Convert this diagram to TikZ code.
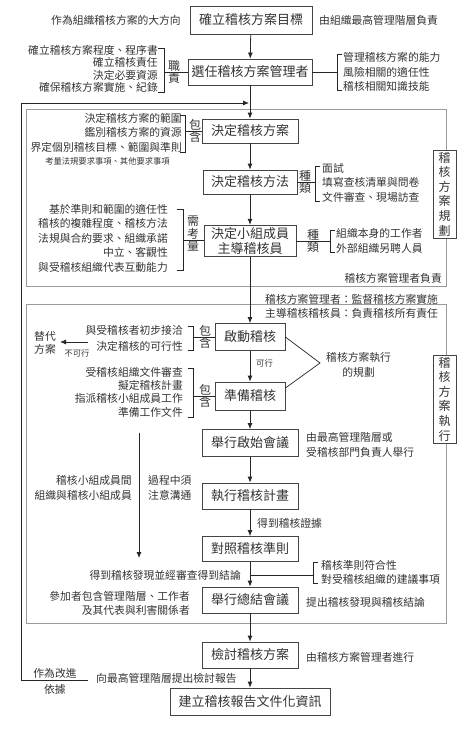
\documentclass[tikz,border=0pt]{standalone}
\usepackage{fontspec}
\setmainfont{Noto Sans CJK TC}
\usetikzlibrary{arrows.meta,calc}

\definecolor{txt}{HTML}{333333}
\definecolor{edge}{HTML}{444444}
\definecolor{frm}{HTML}{9A9A9A}

\tikzset{
    stage/.style={draw=edge, line width=0.8pt, fill=white, text=txt, font=\fontsize{13}{15.5}\selectfont,
        minimum height=26pt, inner xsep=3pt, inner ysep=2pt, align=center},
    aside/.style={font=\fontsize{10.8}{#1}\selectfont, text=txt, inner sep=0pt},
    aside/.default=14.5,
    mini/.style={font=\fontsize{8.3}{10}\selectfont, text=txt, inner sep=0pt},
    vlab/.style={font=\fontsize{12}{12.5}\selectfont, text=txt, inner sep=0pt, align=center},
    tag/.style={draw=edge, line width=0.7pt, fill=white, text=txt, font=\fontsize{12}{14.6}\selectfont,
        minimum width=23pt, minimum height=88pt, inner sep=0pt, align=center},
    zone/.style={draw=frm, line width=0.7pt},
    flow/.style={draw=black!85, line width=0.8pt, -{Latex[length=6pt,width=5pt]}},
    link/.style={draw=black!85, line width=0.7pt},
}

\begin{document}
\begin{tikzpicture}[x=1pt, y=-1pt]
    \useasboundingbox (0,0) rectangle (474,729);

    \draw[zone] (26,109) rectangle (446,286);
    \draw[zone] (26,304) rectangle (446,623);
    \node[tag] (plan) at (444.5,194) {稽\\核\\方\\案\\規\\劃};
    \node[tag] (run) at (444.5,399) {稽\\核\\方\\案\\執\\行};

    \node[stage, minimum width=122pt, minimum height=28pt] (goal) at (251,20) {確立稽核方案目標};
    \node[stage, minimum width=124pt] (mgr) at (250,72) {選任稽核方案管理者};
    \node[stage, minimum width=96pt, minimum height=24pt] (prog) at (250,131) {決定稽核方案};
    \node[stage, minimum width=94pt, minimum height=24pt] (meth) at (250,182) {決定稽核方法};
    \node[stage, minimum width=92pt, minimum height=31pt] (team) at (250,241) {決定小組成員\\主導稽核員};
    \node[stage, minimum width=70pt, minimum height=27pt] (init) at (250,337) {啟動稽核};
    \node[stage, minimum width=70pt, minimum height=28pt] (prep) at (250,396) {準備稽核};
    \node[stage, minimum width=96pt, minimum height=27pt] (kick) at (250,443) {舉行啟始會議};
    \node[stage, minimum width=96pt] (exec) at (250,496) {執行稽核計畫};
    \node[stage, minimum width=96pt, minimum height=25pt] (comp) at (250,549) {對照稽核準則};
    \node[stage, minimum width=96pt] (close) at (250,600) {舉行總結會議};
    \node[stage, minimum width=96pt] (rev) at (250,655) {檢討稽核方案};
    \node[stage, minimum width=160pt, minimum height=27pt] (rep) at (250,701.5) {建立稽核報告文件化資訊};

    \coordinate (merge) at (250,103);
    \foreach \a/\b in {goal/mgr,mgr/prog,prog/meth,meth/team,team/init,init/prep,prep/kick,
        kick/exec,exec/comp,comp/close,close/rev,rev/rep}
        \draw[flow] (\a) -- (\b);

    \node[aside, anchor=east] (goalL) at (181,20) {作為組織稽核方案的大方向};
    \node[aside, anchor=west] (goalR) at (319,20) {由組織最高管理階層負責};

    \node[aside=12.4, anchor=east, align=right] (duty) at (158,69) {確立稽核方案程度、程序書\\確立稽核責任\\決定必要資源\\確保稽核方案實施、紀錄};
    \draw[link] (158,48) -- (164,48) -- (164,92) -- (158,92);
    \coordinate (dutyB) at (164,72);
    \draw[link] (dutyB) -- (mgr.west);
    \node[vlab] (dutyV) at (174,72) {職\\責};
    \coordinate (skillB) at (337,72);
    \draw[link] (mgr.east) -- (skillB);
    \draw[link] (342,54) -- (337,54) -- (337,90) -- (342,90);
    \node[aside=14.7, anchor=west, align=left] (skill) at (343,72) {管理稽核方案的能力\\風險相關的適任性\\稽核相關知識技能};

    \coordinate (fb) at (88,680);
    \draw[flow, shorten >=1pt] (fb) -- (21,680) |- (merge);
    \node[aside] (improveA) at (55,673.5) {作為改進};
    \node[aside] (improveB) at (55,689) {依據};

    \node[aside, anchor=east, align=right] (scope) at (182,132.5) {決定稽核方案的範圍\\鑑別稽核方案的資源\\界定個別稽核目標、範圍與準則};
    \draw[link] (180,115) -- (185,115) -- (185,152) -- (180,152);
    \coordinate (scopeB) at (185,131);
    \draw[link] (scopeB) -- (prog.west);
    \node[vlab] (scopeV) at (195,131) {包\\含};
    \node[mini, anchor=east] (law) at (170,161) {考量法規要求事項、其他要求事項};

    \node[vlab] (wayV) at (305,182) {種\\類};
    \coordinate (wayB) at (315,182);
    \draw[link] (meth.east) -- (wayB);
    \draw[link] (320,166) -- (315,166) -- (315,201) -- (320,201);
    \node[aside, anchor=west, align=left] (way) at (322,182.5) {面試\\填寫查核清單與問卷\\文件審查、現場訪查};

    \node[aside, anchor=east, align=right] (need) at (168,238) {基於準則和範圍的適任性\\稽核的複雜程度、稽核方法\\法規與合約要求、組織承諾\\中立、客觀性\\與受稽核組織代表互動能力};
    \draw[link] (177,209) -- (183,209) -- (183,270) -- (177,270);
    \coordinate (needB) at (183,240);
    \draw[link] (needB) -- (needB -| team.west);
    \node[vlab] (needV) at (193,234) {需\\考\\量};
    \node[vlab] (staffV) at (313,241) {種\\類};
    \coordinate (staffB) at (330,241);
    \draw[link] (team.east) -- (staffB);
    \draw[link] (335,230) -- (330,230) -- (330,252) -- (335,252);
    \node[aside=15, anchor=west, align=left] (staff) at (336,241) {組織本身的工作者\\外部組織另聘人員};
    \node[aside, anchor=east] (owner) at (442,278) {稽核方案管理者負責};

    \node[aside, anchor=west] (over) at (265,299) {稽核方案管理者：監督稽核方案實施};
    \node[aside, anchor=west] (lead) at (265,313) {主導稽核稽核員：負責稽核所有責任};

    \node[aside=16, anchor=east, align=right] (contact) at (183,338) {與受稽核者初步接洽\\決定稽核的可行性};
    \draw[link] (188,326) -- (193,326) -- (193,350) -- (188,350);
    \coordinate (contactB) at (193,337);
    \draw[link] (contactB) -- (init.west);
    \node[vlab] (contactV) at (205,337) {包\\含};
    \node[aside=13, align=center, inner sep=4pt] (alt) at (45,343) {替代\\方案};
    \coordinate (nogo) at (88,342);
    \draw[flow] (nogo) -- (nogo -| alt.east);
    \node[mini] (nogoL) at (77,353) {不可行};
    \node[mini, anchor=west] (ok) at (256,363) {可行};

    \node[aside=13.3, anchor=east, align=right] (task) at (183,392) {受稽核組織文件審查\\擬定稽核計畫\\指派稽核小組成員工作\\準備工作文件};
    \draw[link] (188,368) -- (193,368) -- (193,417) -- (188,417);
    \coordinate (taskB) at (193,396);
    \draw[link] (taskB) -- (prep.west);
    \node[vlab] (taskV) at (205,396) {包\\含};

    \coordinate (apex) at (320,363);
    \draw[link] (init.east) -- (apex) -- ([yshift=8pt]prep.east);
    \node[aside=15, anchor=west, align=center] (scheme) at (326,364.5) {稽核方案執行\\的規劃};

    \node[aside=15, anchor=west, align=left] (host) at (306,444.5) {由最高管理階層或\\受稽核部門負責人舉行};

    \node[aside=15, anchor=east, align=right] (talk) at (132,487.5) {稽核小組成員間\\組織與稽核小組成員};
    \node[aside=15, anchor=west, align=left] (care) at (148,487.5) {過程中須\\注意溝通};
    \coordinate (commA) at (139,433);
    \coordinate (commB) at (139,558);
    \draw[flow] (commA) -- (commB);
    \node[aside, anchor=west] (evid) at (257,523) {得到稽核證據};

    \coordinate (fork) at (250,575);
    \coordinate (resultB) at (313,575);
    \draw[link] (fork) -- (resultB);
    \draw[link] (318,562) -- (313,562) -- (313,583) -- (318,583);
    \node[aside=14, anchor=west, align=left] (result) at (321,572.5) {稽核準則符合性\\對受稽核組織的建議事項};
    \node[aside, anchor=east] (find) at (241,575) {得到稽核發現並經審查得到結論};

    \node[aside=13.5, anchor=east, align=right] (who) at (190,603.5) {參加者包含管理階層、工作者\\及其代表與利害關係者};
    \node[aside, anchor=west] (present) at (306,602) {提出稽核發現與稽核結論};

    \node[aside, anchor=west] (byMgr) at (306,657) {由稽核方案管理者進行};
    \node[aside, anchor=west] (report) at (96,678) {向最高管理階層提出檢討報告};
\end{tikzpicture}
\end{document}
